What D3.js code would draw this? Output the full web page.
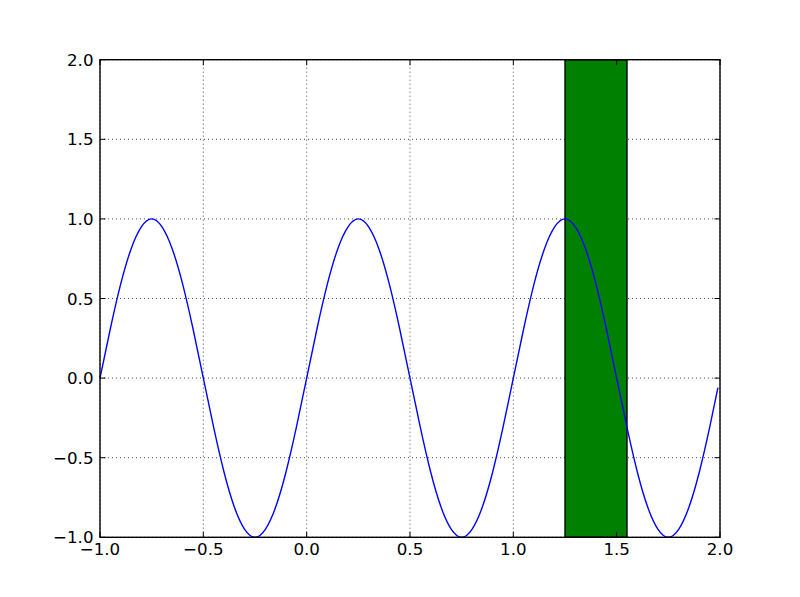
<!DOCTYPE html>
<html>
<head>
<meta charset="utf-8">
<script src="https://cdn.jsdelivr.net/npm/d3@7"></script>
<style>
  body { margin: 0; background: #fff; }
  text { font-family: "DejaVu Sans", sans-serif; }
</style>
</head>
<body>
<div id="chart"></div>
<script>
// curve points
let xs = [-1.00, -0.95, -0.90, -0.85, -0.80, -0.75, -0.70, -0.65, -0.60, -0.55,
          -0.50, -0.45, -0.40, -0.35, -0.30, -0.25, -0.20, -0.15, -0.10, -0.05,
           0.00,  0.05,  0.10,  0.15,  0.20,  0.25,  0.30,  0.35,  0.40,  0.45,
           0.50,  0.55,  0.60,  0.65,  0.70,  0.75,  0.80,  0.85,  0.90,  0.95,
           1.00,  1.05,  1.10,  1.15,  1.20,  1.25,  1.30,  1.35,  1.40,  1.45,
           1.50,  1.55,  1.60,  1.65,  1.70,  1.75,  1.80,  1.85,  1.90,  1.95, 1.99]
let ys = [0.00, 0.31, 0.59, 0.81, 0.95, 1.00, 0.95, 0.81, 0.59, 0.31,
          0.00, -0.31, -0.59, -0.81, -0.95, -1.00, -0.95, -0.81, -0.59, -0.31,
          0.00, 0.31, 0.59, 0.81, 0.95, 1.00, 0.95, 0.81, 0.59, 0.31,
          0.00, -0.31, -0.59, -0.81, -0.95, -1.00, -0.95, -0.81, -0.59, -0.31,
          0.00, 0.31, 0.59, 0.81, 0.95, 1.00, 0.95, 0.81, 0.59, 0.31,
          0.00, -0.31, -0.59, -0.81, -0.95, -1.00, -0.95, -0.81, -0.59, -0.31, -0.06]

// shaded vertical band
let spanStart = 1.25
let spanEnd = 1.55

let xTicks = [-1.0, -0.5, 0.0, 0.5, 1.0, 1.5, 2.0]
let yTicks = [-1.0, -0.5, 0.0, 0.5, 1.0, 1.5, 2.0]

let chartWidth = 800,
    chartHeight = 597,
    plotLeft = 100, plotRight = 720, plotTop = 59.7, plotBottom = 537.3

let svg = d3.select("#chart")
  .append("svg")
    .attr("width", chartWidth)
    .attr("height", chartHeight)

let x = d3.scaleLinear().domain([-1, 2]).range([plotLeft, plotRight])
let y = d3.scaleLinear().domain([-1, 2]).range([plotBottom, plotTop])

let fmt = function(d) { return d3.format(".1f")(d).replace("-", "\u2212") }

// grid
let grid = svg.append("g")
grid.selectAll(".gx")
  .data(xTicks)
  .enter().append("line")
    .attr("x1", function(d) { return x(d) })
    .attr("x2", function(d) { return x(d) })
    .attr("y1", plotTop).attr("y2", plotBottom)
grid.selectAll(".gy")
  .data(yTicks)
  .enter().append("line")
    .attr("y1", function(d) { return y(d) })
    .attr("y2", function(d) { return y(d) })
    .attr("x1", plotLeft).attr("x2", plotRight)
grid.selectAll("line")
  .attr("stroke", "black")
  .attr("stroke-width", 0.7)
  .attr("stroke-dasharray", "1,3")

// span
svg.append("rect")
  .attr("x", x(spanStart))
  .attr("y", y(2))
  .attr("width", x(spanEnd) - x(spanStart))
  .attr("height", y(-1) - y(2))
  .attr("fill", "#008000")
  .attr("stroke", "black")
  .attr("stroke-width", 1.39)

// the curve
let line = d3.line()
  .x(function(d) { return x(d[0]) })
  .y(function(d) { return y(d[1]) })
  .curve(d3.curveNatural)

svg.append("path")
  .datum(d3.zip(xs, ys))
  .attr("d", line)
  .attr("fill", "none")
  .attr("stroke", "#0000ff")
  .attr("stroke-width", 1.39)

// frame
svg.append("rect")
  .attr("x", plotLeft).attr("y", plotTop)
  .attr("width", plotRight - plotLeft).attr("height", plotBottom - plotTop)
  .attr("fill", "none")
  .attr("stroke", "black")
  .attr("stroke-width", 1.39)

// inward ticks on all four sides
let tl = 5.5
let ticks = svg.append("g").attr("stroke", "black").attr("stroke-width", 1)
xTicks.forEach(function(d) {
  ticks.append("line").attr("x1", x(d)).attr("x2", x(d)).attr("y1", plotBottom).attr("y2", plotBottom - tl)
  ticks.append("line").attr("x1", x(d)).attr("x2", x(d)).attr("y1", plotTop).attr("y2", plotTop + tl)
})
yTicks.forEach(function(d) {
  ticks.append("line").attr("y1", y(d)).attr("y2", y(d)).attr("x1", plotLeft).attr("x2", plotLeft + tl)
  ticks.append("line").attr("y1", y(d)).attr("y2", y(d)).attr("x1", plotRight).attr("x2", plotRight - tl)
})

// tick labels
svg.selectAll(".xl")
  .data(xTicks)
  .enter().append("text")
    .attr("x", function(d) { return x(d) })
    .attr("y", plotBottom + 4.9)
    .attr("dy", "0.76em")
    .style("text-anchor", "middle")
    .style("font-size", "16.67px")
    .text(fmt)

svg.selectAll(".yl")
  .data(yTicks)
  .enter().append("text")
    .attr("x", plotLeft - 6.5)
    .attr("y", function(d) { return y(d) })
    .attr("dy", "0.36em")
    .style("text-anchor", "end")
    .style("font-size", "16.67px")
    .text(fmt)
</script>
</body>
</html>
